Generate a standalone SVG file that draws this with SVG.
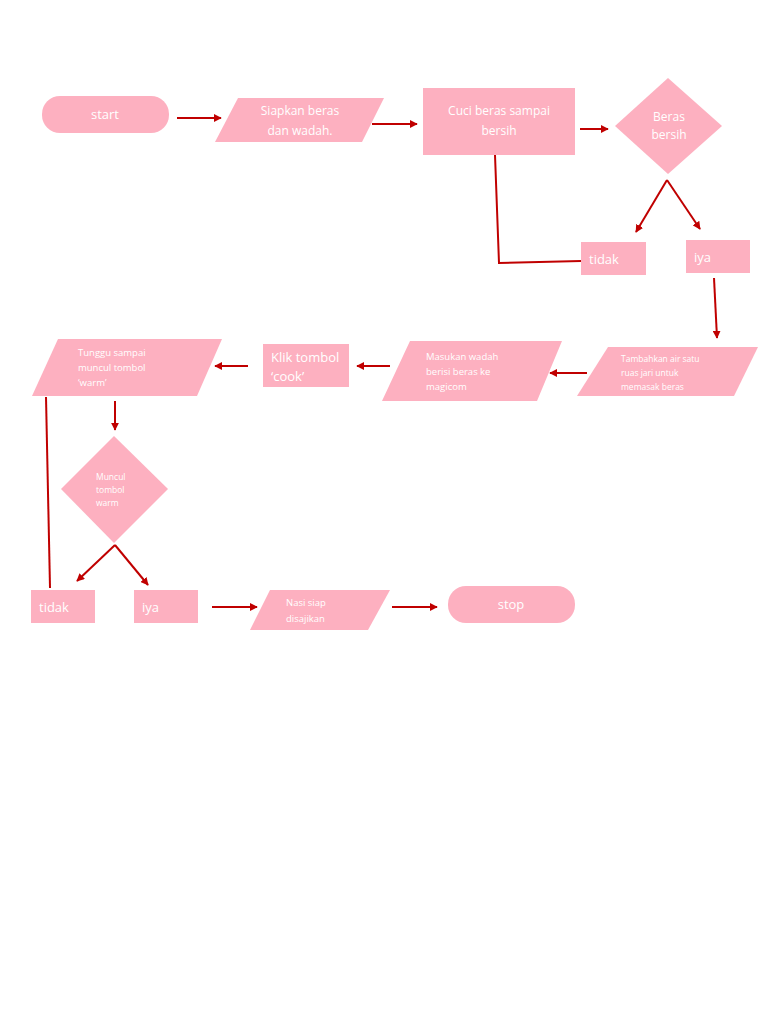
<svg xmlns="http://www.w3.org/2000/svg" width="768" height="1024" viewBox="0 0 768 1024">
<style>
.s{fill:#fdb0c0}
.t{fill:#fff;font-family:"Open Sans","Liberation Sans",sans-serif}
.c line,.c polyline{stroke:#c00000;stroke-width:2;fill:none}
</style>
<defs><marker id="a" viewBox="0 0 10 10" refX="9" refY="5" markerWidth="4" markerHeight="4" orient="auto"><path d="M0,0L10,5L0,10z" fill="#c00000"/></marker></defs>
<rect width="768" height="1024" fill="#fff"/>
<g id="start"><rect class="s" x="42" y="96" width="127" height="37" rx="18"/><text class="t" x="105" y="119" font-size="13" text-anchor="middle">start</text></g>
<g id="siapkan"><polygon class="s" points="238,98 384,98 362,142 215,142"/><text class="t" font-size="12" text-anchor="middle"><tspan x="300" y="115">Siapkan beras</tspan><tspan x="300" y="135">dan wadah.</tspan></text></g>
<g id="cuci"><rect class="s" x="423" y="88" width="152" height="67"/><text class="t" font-size="12" text-anchor="middle"><tspan x="499" y="115">Cuci beras sampai</tspan><tspan x="499" y="135">bersih</tspan></text></g>
<g id="beras"><polygon class="s" points="668,78 722,126 668,174 615,126"/><text class="t" font-size="12" text-anchor="middle"><tspan x="669" y="121">Beras</tspan><tspan x="669" y="139">bersih</tspan></text></g>
<g id="tidak1"><rect class="s" x="581" y="242" width="65" height="33"/><text class="t" x="589" y="264" font-size="13">tidak</text></g>
<g id="iya1"><rect class="s" x="686" y="240" width="64" height="33"/><text class="t" x="694" y="262" font-size="13">iya</text></g>
<g id="tambahkan"><polygon class="s" points="608,347 758,347 734,396 577,396"/><text class="t" font-size="8.5"><tspan x="621" y="362">Tambahkan  air satu</tspan><tspan x="621" y="376">ruas jari untuk</tspan><tspan x="621" y="390">memasak beras</tspan></text></g>
<g id="masukan"><polygon class="s" points="410,341 562,341 537,401 382,401"/><text class="t" font-size="9.5"><tspan x="426" y="360">Masukan wadah</tspan><tspan x="426" y="375">berisi beras ke</tspan><tspan x="426" y="390">magicom</tspan></text></g>
<g id="klik"><rect class="s" x="263" y="344" width="86" height="43"/><text class="t" font-size="13"><tspan x="271" y="362">Klik tombol</tspan><tspan x="271" y="381">‘cook’</tspan></text></g>
<g id="tunggu"><polygon class="s" points="58,339 222,339 197,396 32,396"/><text class="t" font-size="9.5"><tspan x="78" y="356">Tunggu sampai</tspan><tspan x="78" y="371">muncul tombol</tspan><tspan x="78" y="386">‘warm’</tspan></text></g>
<g id="muncul"><polygon class="s" points="114,436 168,489 114,543 61,489"/><text class="t" font-size="8.5"><tspan x="96" y="480">Muncul</tspan><tspan x="96" y="493">tombol</tspan><tspan x="96" y="506">warm</tspan></text></g>
<g id="tidak2"><rect class="s" x="31" y="590" width="64" height="33"/><text class="t" x="39" y="612" font-size="13">tidak</text></g>
<g id="iya2"><rect class="s" x="134" y="590" width="64" height="33"/><text class="t" x="142" y="612" font-size="13">iya</text></g>
<g id="nasi"><polygon class="s" points="270,590 390,590 368,630 250,630"/><text class="t" font-size="9.5"><tspan x="286" y="606">Nasi siap</tspan><tspan x="286" y="622">disajikan</tspan></text></g>
<g id="stop"><rect class="s" x="448" y="586" width="127" height="37" rx="18"/><text class="t" x="511" y="609" font-size="13" text-anchor="middle">stop</text></g>
<g class="c" id="connectors">
<line x1="177" y1="118" x2="221" y2="118" marker-end="url(#a)"/>
<line x1="372" y1="124" x2="417" y2="124" marker-end="url(#a)"/>
<line x1="580" y1="129" x2="608" y2="129" marker-end="url(#a)"/>
<line x1="667" y1="180" x2="636" y2="232" marker-end="url(#a)"/>
<line x1="667" y1="180" x2="700" y2="229" marker-end="url(#a)"/>
<polyline points="495,155 499,263 581,261"/>
<line x1="714" y1="278" x2="717" y2="338" marker-end="url(#a)"/>
<line x1="587" y1="373" x2="550" y2="373" marker-end="url(#a)"/>
<line x1="390" y1="366" x2="357" y2="366" marker-end="url(#a)"/>
<line x1="248" y1="366" x2="215" y2="366" marker-end="url(#a)"/>
<line x1="115" y1="401" x2="115" y2="430" marker-end="url(#a)"/>
<line x1="115" y1="545" x2="77" y2="581" marker-end="url(#a)"/>
<line x1="115" y1="545" x2="148" y2="585" marker-end="url(#a)"/>
<line x1="46" y1="397" x2="50" y2="588"/>
<line x1="212" y1="607" x2="257" y2="607" marker-end="url(#a)"/>
<line x1="392" y1="607" x2="437" y2="607" marker-end="url(#a)"/>
</g>
</svg>
